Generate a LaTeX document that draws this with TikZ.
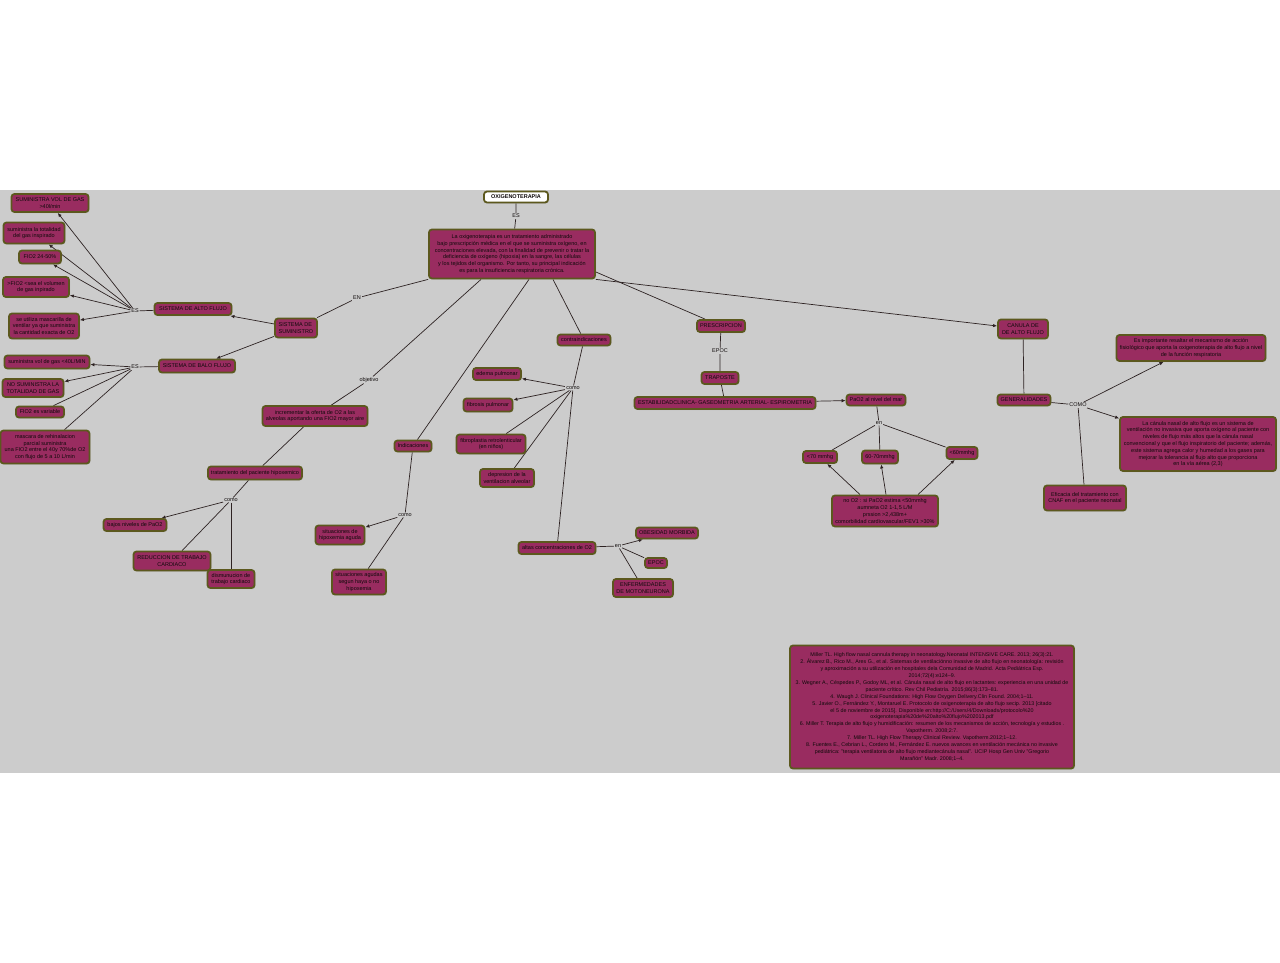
\documentclass[tikz,border=0pt]{standalone}
\usepackage{fontspec}
\setmainfont{Liberation Sans}
\usetikzlibrary{arrows.meta,shadows}
\definecolor{bgc}{RGB}{204,204,204}
\definecolor{boxf}{RGB}{153,44,96}
\definecolor{boxd}{RGB}{92,88,30}
\definecolor{lnc}{RGB}{45,34,34}
\definecolor{txc}{RGB}{15,10,10}
\pgfdeclarelayer{bg}
\pgfdeclarelayer{edges}
\pgfsetlayers{bg,edges,main}
\begin{document}
\begin{tikzpicture}[x=1pt,y=-1pt,
 box/.style={draw=boxd, line width=1.8pt, fill=boxf, rounded corners=3pt, align=center, inner sep=1pt, text=txc,
   font=\fontsize{5.5}{6.8}\selectfont, drop shadow={shadow xshift=1pt,shadow yshift=-1pt,opacity=0.25}},
 sz/.style 2 args={minimum width=#1pt, minimum height=#2pt},
 lbl/.style={fill=bgc, inner sep=0.8pt, text=txc, font=\fontsize{5.5}{6}\selectfont},
 ln/.style={draw=lnc, line width=0.7pt},
 arr/.style={ln, -{Latex[length=4pt,width=3.5pt]}}]
\begin{pgfonlayer}{bg}
\fill[white] (0,0) rectangle (1280,963);
\fill[bgc] (0,190) rectangle (1280,773);
\end{pgfonlayer}
\useasboundingbox (0,0) rectangle (1280,963);

% top
\node[box, fill=white, sz={64}{11}, font=\fontsize{5.5}{6}\selectfont\bfseries] (oxi) at (516,197) {OXIGENOTERAPIA};
\node[lbl] (es1) at (516,216) {ES};
\node[box, sz={166}{49}] (main) at (512,254) {La oxigenoterapia es un tratamiento administrado\\bajo prescripción médica en el que se suministra oxígeno, en\\concentraciones elevada, con la finalidad de prevenir o tratar la\\deficiencia de oxígeno (hipoxia) en la sangre, las células\\y los tejidos del organismo. Por tanto, su principal indicación\\es para la insuficiencia respiratoria crónica.};

% sistema de suministro
\node[box, sz={77}{18}] (sv40) at (50,203) {SUMINISTRA VOL DE GAS\\>40l/min};
\node[box, sz={61}{21}] (total) at (34,233) {suministra la totalidad\\del gas inspirado};
\node[box, sz={42}{13}] (fio24) at (40,257) {FIO2 24-50\%};
\node[box, sz={66}{20}] (fiosea) at (36,287) {>FIO2 <sea el volumen\\de gas inpirado};
\node[box, sz={70}{25}] (masc) at (44,326) {se utiliza mascarilla de\\ventilar ya que suministra\\la cantidad exacta de O2};
\node[lbl] (es2) at (135,311) {ES};
\node[box, sz={77}{12}] (alto) at (193,309) {SISTEMA DE ALTO FLUJO};
\node[box, sz={42}{19}, align=left] (sumin) at (296,328) {SISTEMA DE\\SUMINISTRO};
\node[lbl] (en1) at (357,298) {EN};
\node[box, sz={76}{13}] (balo) at (197,366) {SISTEMA DE BALO FLUJO};
\node[lbl] (es3) at (135,367) {ES};
\node[box, sz={85}{13}] (sv40b) at (47,362) {suministra vol de gas <40L/MIN};
\node[box, sz={61}{18}] (nosum) at (33,388) {NO SUMINISTRA LA\\TOTALIDAD DE GAS};
\node[box, sz={48}{11}] (fiovar) at (40,412) {FIO2 es variable};
\node[box, sz={89}{33}] (masc2) at (45,447) {mascara de rehinalacion\\parcial suministra\\una FIO2 entre el 40y 70\%de O2\\con flujo de 5 a 10 L/min};

% objetivo
\node[lbl] (obj) at (369,380) {objetivo};
\node[box, sz={105}{20}] (incr) at (315,416) {incrementar la oferta de O2 a las\\alveolas aportando una FIO2 mayor aire};
\node[box, sz={94}{13}] (trat) at (255,473) {tratamiento del paciente hipoxemico};
\node[lbl] (como1) at (231,500) {como};
\node[box, sz={63}{12}] (bajos) at (135,525) {bajos niveles de PaO2};
\node[box, sz={77}{19}] (reduc) at (172,561) {REDUCCION DE TRABAJO\\CARDIACO};
\node[box, sz={47}{18}] (dism) at (231,579) {dismunucion de\\trabajo cardiaco};

% indicaciones
\node[box, sz={37}{11}] (indic) at (413,446) {Indicaciones};
\node[lbl] (como2) at (405,515) {como};
\node[box, sz={49}{19}] (sithip) at (340,535) {situaciones de\\hipoxemia aguda};
\node[box, sz={54}{25}] (sitag) at (359,582) {situaciones agudas\\segun haya o no\\hipoxemia};

% contraindicaciones
\node[box, sz={53}{11}] (contra) at (584,340) {contraindicaciones};
\node[lbl] (como3) at (573,388) {como};
\node[box, sz={48}{12}] (edema) at (497,374) {edema pulmonar};
\node[box, sz={49}{13}] (fibro) at (488,405) {fibrosis pulmonar};
\node[box, sz={69}{19}] (fibrop) at (491,444) {fibroplastia retrolenticular\\(en niños)};
\node[box, sz={54}{18}] (depre) at (507,478) {depresion de la\\ventilacion alveolar};
\node[box, sz={77}{12}] (altas) at (557,548) {altas concentraciones de O2};
\node[lbl] (en2) at (618,546) {en};
\node[box, sz={62}{11}] (obes) at (667,533) {OBESIDAD MORBIDA};
\node[box, sz={22}{10}] (epoc) at (656,563) {EPOC};
\node[box, sz={60}{18}] (enfer) at (643,588) {ENFERMEDADES\\DE MOTONEURONA};

% prescripcion
\node[box, sz={48}{12}] (presc) at (721,326) {PRESCRIPCION};
\node[lbl] (epocl) at (720,351) {EPOC};
\node[box, sz={37}{12}] (trap) at (720,378) {TRAPOSTE};
\node[box, sz={181}{12}] (estab) at (725,403) {ESTABILIDADCLINICA- GASEOMETRIA ARTERIAL- ESPIROMETRIA};
\node[box, sz={59}{11}] (pao2) at (876,400) {PaO2 al nivel del mar};
\node[lbl] (en3) at (879,423) {en};
\node[box, sz={34}{12}] (m70) at (820,457) {<70 mmhg};
\node[box, sz={36}{13}] (m6070) at (880,457) {60-70mmhg};
\node[box, sz={31}{12}] (m60) at (962,453) {<60mmhg};
\node[box, sz={106}{31}] (noo2) at (885,511) {no O2 : si PaO2 estima <50mmhg\\aumneta O2 1-1,5 L/M\\prssion >2,438m+\\comorbilidad cardiovascular/FEV1 >30\%};

% canula
\node[box, sz={50}{19}] (canula) at (1023,329) {CANULA DE\\DE ALTO FLUJO};
\node[box, sz={53}{11}] (gener) at (1024,400) {GENERALIDADES};
\node[lbl] (como4) at (1078,405) {COMO};
\node[box, sz={149}{26}] (esimp) at (1191,348) {Es importante resaltar el mecanismo de acción\\fisiológico que aporta la oxigenoterapia de alto flujo a nivel\\de la función respiratoria};
\node[box, sz={156}{54}] (lacan) at (1198,444) {La cánula nasal de alto flujo es un sistema de\\ventilación no invasiva que aporta oxígeno al paciente con\\niveles de flujo más altos que la cánula nasal\\convencional y que el flujo inspiratorio del paciente; además,\\este sistema agrega calor y humedad a los gases para\\mejorar la tolerancia al flujo alto que proporciona\\en la vía aérea (2,3)};
\node[box, sz={82}{25}] (efic) at (1085,498) {Eficacia del tratamiento con\\CNAF en el paciente neonatal};

% references
\node[box, sz={284}{123}, font=\fontsize{5.35}{6.9}\selectfont] (refs) at (932,707) {Miller TL. High flow nasal cannula therapy in neonatology.Neonatal INTENSIVE CARE. 2013; 26(3):21.\\2. Álvarez B., Rico M., Ares G., et al. Sistemas de ventilaciónno invasive de alto flujo en neonatología: revisión\\y aproximación a su utilización en hospitales dela Comunidad de Madrid. Acta Pediátrica Esp.\\2014;72(4):e124–9.\\3. Wegner A., Céspedes P., Godoy ML, et al. Cánula nasal de alto flujo en lactantes: experiencia en una unidad de\\paciente crítico. Rev Chil Pediatría. 2015;86(3):173–81.\\4. Waugh J. Clinical Foundations: High Flow Oxygen Delivery.Clin Found. 2004;1–11.\\5. Javier O., Fernández Y., Montaruel E. Protocolo de oxigenoterapia de alto flujo secip. 2013 [citado\\el 5 de noviembre de 2015]. Disponible en:http://C:/Users/4/Downloads/protocolo\%20\\oxigenoterapia\%20de\%20alto\%20flujo\%202013.pdf\\6. Miller T. Terapia de alto flujo y humidificación: resumen de los mecanismos de acción, tecnología y estudios .\\Vapotherm. 2008;2:7.\\7. Miller TL. High Flow Therapy Clinical Review. Vapotherm.2012;1–12.\\8. Fuentes E., Cebrian L., Cordero M., Fernández E. nuevos avances en ventilación mecánica no invasive\\pediátrica: "terapia ventilatoria de alto flujo mediantecánula nasal". UCIP Hosp Gen Univ "Gregorio\\Marañón" Madr. 2008;1–4.};

\begin{pgfonlayer}{edges}
\draw[ln] (oxi) -- (es1) -- (main);
\draw[ln] (main.south west) -- (en1) -- (sumin);
\draw[arr] (sumin) -- (alto);
\draw[arr] (sumin) -- (balo);
\draw[ln] (alto) -- (es2);
\foreach \t in {sv40,total,fio24,fiosea,masc} \draw[arr] (es2) -- (\t);
\draw[ln] (balo) -- (es3);
\draw[arr] (es3) -- (sv40b);
\draw[arr] (es3) -- (nosum);
\draw[ln] (es3) -- (fiovar);
\draw[ln] (es3) -- (masc2);
\draw[ln] ([xshift=-31pt]main.south) -- (obj) -- (incr);
\draw[ln] (incr) -- (trat);
\draw[ln] (trat) -- (como1);
\draw[arr] (como1) -- (bajos);
\draw[ln] (como1) -- (reduc);
\draw[ln] (como1) -- (dism);
\draw[ln] ([xshift=17pt]main.south) -- (indic);
\draw[ln] (indic) -- (como2);
\draw[arr] (como2) -- (sithip);
\draw[ln] (como2) -- (sitag);
\draw[ln] ([xshift=41pt]main.south) -- (contra);
\draw[ln] (contra) -- (como3);
\draw[arr] (como3) -- (edema);
\draw[arr] (como3) -- (fibro);
\draw[ln] (como3) -- (fibrop);
\draw[ln] (como3) -- (depre);
\draw[ln] (como3) -- (altas);
\draw[ln] (altas) -- (en2);
\draw[arr] (en2) -- (obes);
\draw[ln] (en2) -- (epoc);
\draw[ln] (en2) -- (enfer);
\draw[ln] ([yshift=-18pt]main.east) -- (presc);
\draw[ln] (presc) -- (epocl) -- (trap);
\draw[ln] (trap) -- (estab);
\draw[arr] (estab) -- (pao2);
\draw[ln] (pao2) -- (en3);
\draw[ln] (en3) -- (m70);
\draw[ln] (en3) -- (m6070);
\draw[ln] (en3) -- (m60);
\draw[arr] ([xshift=-25pt]noo2.north) -- (m70);
\draw[arr] ([xshift=1pt]noo2.north) -- (m6070);
\draw[arr] ([xshift=33pt]noo2.north) -- (m60);
\draw[arr] (main.south east) -- (canula);
\draw[ln] (canula) -- (gener);
\draw[ln] (gener) -- (como4);
\draw[arr] (como4) -- (esimp);
\draw[arr] (como4) -- (lacan);
\draw[ln] (como4) -- (efic);
\end{pgfonlayer}
\end{tikzpicture}
\end{document}
